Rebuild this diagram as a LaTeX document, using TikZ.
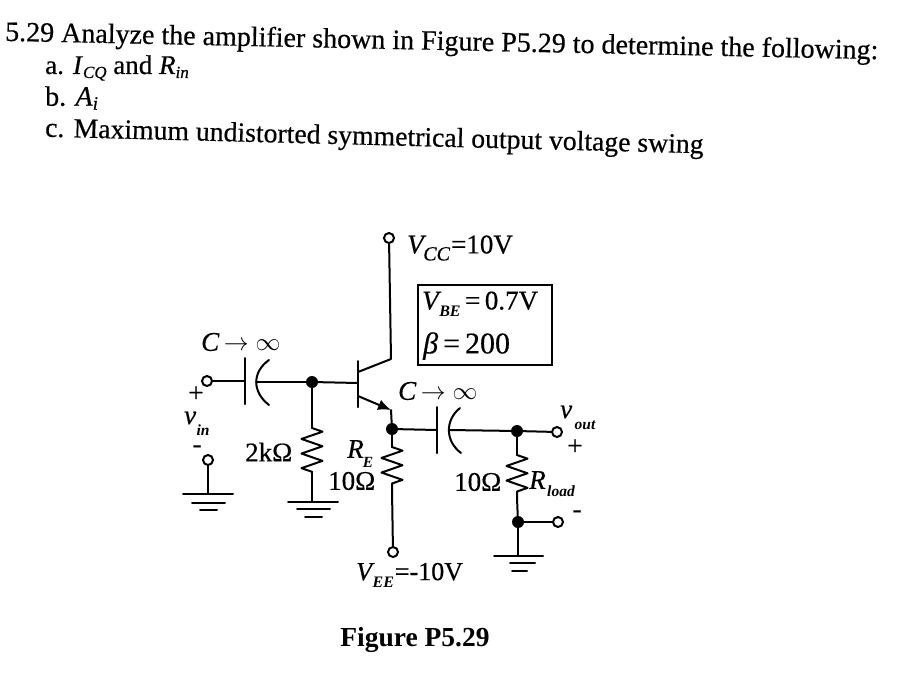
\documentclass[tikz,border=0pt]{standalone}
\usepackage{fontspec}
\setmainfont{Liberation Serif}[UprightFeatures={FakeBold=0.5},ItalicFeatures={FakeBold=0.5}]
\usetikzlibrary{decorations.pathmorphing,arrows.meta}
\tikzset{
  wire/.style={line width=2pt,line cap=round,line join=round},
  term/.style={circle,draw,line width=2pt,fill=white,inner sep=0pt,minimum size=10pt},
  dot/.style={circle,fill,inner sep=0pt,minimum size=12pt},
  res/.style={wire,decorate,decoration={zigzag,segment length=14.6pt,amplitude=10.5pt}},
  hd/.style={anchor=west,inner sep=0pt,font=\fontsize{28}{30}\selectfont},
  lab/.style={inner sep=0pt,font=\fontsize{27}{30}\selectfont},
  sm/.style={inner sep=0pt,font=\fontsize{15.5}{18}\selectfont\bfseries\itshape},
}
\begin{document}
\begin{tikzpicture}[x=1pt,y=-1pt]
\useasboundingbox (0,0) rectangle (899,686);
% heading
\node[hd,rotate=-1.2] (t0) at (5,34) {5.29 Analyze the amplifier shown in Figure P5.29 to determine the following:};
\node[hd,font=\fontsize{27}{30}\selectfont] (ta) at (45,68) {a. \textit{I}\raisebox{-4pt}{\fontsize{17}{20}\selectfont\textit{CQ}} and \textit{R}\raisebox{-4pt}{\fontsize{17}{20}\selectfont\textit{in}}};
\node[hd] (tb) at (45,98) {b. \textit{A}\raisebox{-4pt}{\fontsize{19}{20}\selectfont\textit{i}}};
\node[hd,rotate=-1.45,font=\fontsize{27.7}{30}\selectfont] (tc) at (45,130) {c. Maximum undistorted symmetrical output voltage swing};
% nodes
\node[term] (vin) at (207,381) {};
\node[term] (vgnd) at (208,460) {};
\node[dot] (nb) at (312,382) {};
\node[term] (vcc) at (389,238) {};
\node[dot] (ne) at (392,429) {};
\node[term] (vee) at (393,552) {};
\node[dot] (no) at (517,431) {};
\node[term] (vop) at (557,432) {};
\node[dot] (nl) at (518,522) {};
\node[term] (von) at (558,522) {};
\coordinate (c1l) at (245,381);
\coordinate (c1r) at (256,382);
\coordinate (c2l) at (437,430);
\coordinate (c2r) at (449,430);
\coordinate (bb) at (358,383);
\coordinate (cc) at (391,359);
\coordinate (cb) at (358,372);
\coordinate (eb) at (358,396);
\coordinate (ee) at (391,410);
\coordinate (gl) at (208,494);
\coordinate (gm) at (312,502);
\coordinate (gr) at (518,556);
\coordinate (r1a) at (312,428);
\coordinate (r1b) at (312,472);
\coordinate (r2a) at (392,447);
\coordinate (r2b) at (392,490);
\coordinate (r3a) at (517,455);
\coordinate (r3b) at (517,498);
% input capacitor
\draw[wire] (vin) -- (c1l);
\draw[wire] (245,358) -- (245,404);
\draw[wire] (269,360) .. controls (252,372) and (252,392) .. (269,405);
\draw[wire] (c1r) -- (nb);
\draw[wire] (nb) -- (bb);
% transistor
\draw[wire] (358,361) -- (358,407);
\draw[wire] (cb) -- (cc) -- (vcc);
\draw[wire,-{Latex[length=13pt,width=11pt]}] (eb) -- (ee);
\draw[wire] (ee) -- (ne);
% resistors
\draw[wire] (nb) -- (r1a);
\draw[res] (r1a) -- (r1b);
\draw[wire] (r1b) -- (gm);
\draw[wire] (ne) -- (r2a);
\draw[res] (r2a) -- (r2b);
\draw[wire] (r2b) -- (vee);
\draw[wire] (ne) -- (c2l);
\draw[wire] (437,407) -- (437,453);
\draw[wire] (460,408) .. controls (445,420) and (445,441) .. (461,453);
\draw[wire] (c2r) -- (no);
\draw[wire] (no) -- (vop);
\draw[wire] (no) -- (r3a);
\draw[res] (r3a) -- (r3b);
\draw[wire] (r3b) -- (nl);
\draw[wire] (nl) -- (von);
\draw[wire] (nl) -- (gr);
\draw[wire] (vgnd) -- (gl);
% grounds
\draw[wire] (183,494) -- (233,494) (192,503) -- (225,503) (200,510) -- (217,510);
\draw[wire] (288,502) -- (338,502) (297,509) -- (330,509) (305,517) -- (322,517);
\draw[wire] (494,556) -- (543,556) (510,563) -- (535,563) (512,571) -- (527,571);
% parameter box
\node[draw,line width=2pt,minimum width=134pt,minimum height=80pt,inner sep=0pt] (box) at (485,325) {};
% labels
\node[lab,anchor=west] (lvcc) at (407,248) {\textit{V}\kern-3pt\raisebox{-7pt}{\fontsize{20}{20}\selectfont\textit{CC}}\kern1pt=10V};
\node[lab,anchor=west] (lvbe) at (422,304) {\textit{V}\kern-2pt\raisebox{-7pt}{\fontsize{16}{18}\selectfont\textbf{\textit{BE}}}\,=\,0.7V};
\node[lab,anchor=west,font=\fontsize{30}{32}\selectfont] (lbeta) at (423,346) {\textit{β}\,=\,200};
\node[lab,anchor=west] (lc1) at (201,342) {\textit{C}\,$\rightarrow\infty$};
\node[lab,anchor=west] (lc2) at (398,391) {\textit{C}\,$\rightarrow\infty$};
\node[lab] (lp1) at (196,394) {+};
\node[lab,anchor=west] (lvi) at (184,418) {\textit{v}};
\node[sm] (lin) at (203,430) {in};
\node[lab] (lm1) at (197,449) {-};
\node[lab,anchor=west] (l2k) at (245,452) {2kΩ};
\node[lab,anchor=west] (lre) at (347,449) {\textit{R}};
\node[sm] (lres) at (368,462) {\textit{E}};
\node[lab,anchor=west] (l10a) at (328,481) {10Ω};
\node[lab,anchor=west] (l10b) at (454,482) {10Ω};
\node[lab,anchor=west] (lrl) at (529,480) {\textit{R}};
\node[sm] (lload) at (561,491) {load};
\node[lab,anchor=west] (lvo) at (560,412) {\textit{v}};
\node[sm] (lout) at (585,425) {out};
\node[lab] (lp2) at (575,447) {+};
\node[lab] (lm2) at (577,514) {-};
\node[lab,anchor=west,font=\fontsize{26}{30}\selectfont] (lvee) at (356,575) {\textit{V}\kern-2pt\raisebox{-7pt}{\fontsize{16}{18}\selectfont\textbf{\textit{EE}}}\kern1pt=-10V};
\node[inner sep=0pt,font=\fontsize{27.5}{30}\selectfont\bfseries] (fig) at (415,640) {Figure P5.29};
\end{tikzpicture}
\end{document}
